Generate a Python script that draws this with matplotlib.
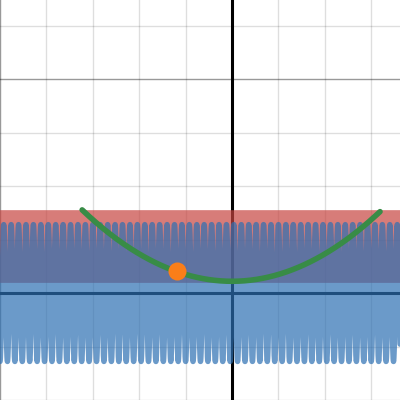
import numpy as np
import matplotlib
matplotlib.use("Agg")
import matplotlib.pyplot as plt

# view window (graph units)
x_range = (-5.0, 3.62)
y_range = (-2.0, 5.48)

# red shaded band
band_lo, band_hi = 0.19, 1.55
# blue oscillation: centre, amplitude, period
osc_mid, osc_amp, osc_period = 0.0, 1.28, 0.16
# green parabola: vertex and curvature, drawn between ends
par_vertex = (0.0, 0.22)
par_a = 0.128
par_ends = (-3.23, 3.19)
# orange point
pt_x, pt_y = -1.19, 0.41

RED = "#c74440"
BLUE = "#2d70b3"
GREEN = "#388c46"
ORANGE = "#fa7e19"

fig = plt.figure(figsize=(4, 4), dpi=100)
ax = fig.add_axes([0, 0, 1, 1])
ax.set_xlim(*x_range)
ax.set_ylim(*y_range)

# grid
for gx in np.arange(-5, 4, 1):
    ax.axvline(gx, color="#000", alpha=0.4 if gx == -5 else 0.13, lw=1, zorder=0)
for gy in np.arange(-2, 6, 1):
    ax.axhline(gy, color="#000", alpha=0.4 if gy == 4 else 0.13, lw=1, zorder=0)
ax.axvline(0, color="black", lw=2.2, zorder=1)
ax.axhline(0, color="black", lw=2.2, zorder=1)

xs = np.linspace(-5.2, 3.8, 6000)
ax.fill_between(xs, band_lo, band_hi, color=RED, alpha=0.7, lw=0, zorder=2)
ax.plot(xs, osc_mid + osc_amp * np.sin(2 * np.pi * xs / osc_period),
        color=BLUE, lw=3.9, alpha=0.7, solid_capstyle="round", zorder=3)

px = np.linspace(*par_ends, 300)
ax.plot(px, par_vertex[1] + par_a * (px - par_vertex[0]) ** 2, color=GREEN,
        lw=4, solid_capstyle="round", zorder=4)
ax.plot([pt_x], [pt_y], "o", color=ORANGE, ms=13, mec="none", zorder=5)

ax.set_axis_off()
fig.savefig("out.png", dpi=100)
